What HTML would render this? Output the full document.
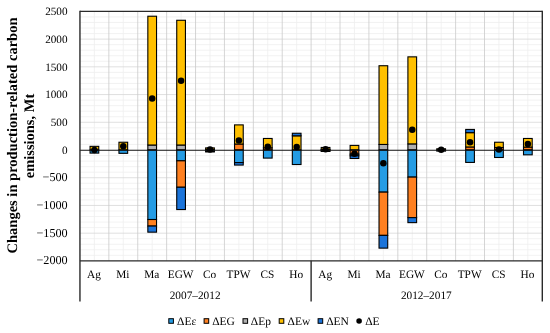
<!DOCTYPE html>
<html lang="en"><head><meta charset="utf-8"><title>Changes in production-related carbon emissions</title>
<style>html,body{margin:0;padding:0;background:#fff}svg{display:block}text{font-family:"Liberation Serif","Times New Roman",serif;fill:#000;text-rendering:geometricPrecision}</style></head><body>
<svg width="550" height="333" viewBox="0 0 550 333">
<rect width="550" height="333" fill="#fff"/>
<path d="M79.95 16.94H542.3M79.95 22.49H542.3M79.95 28.03H542.3M79.95 33.58H542.3M79.95 44.66H542.3M79.95 50.21H542.3M79.95 55.75H542.3M79.95 61.30H542.3M79.95 72.38H542.3M79.95 77.93H542.3M79.95 83.47H542.3M79.95 89.02H542.3M79.95 100.10H542.3M79.95 105.65H542.3M79.95 111.19H542.3M79.95 116.74H542.3M79.95 127.82H542.3M79.95 133.37H542.3M79.95 138.91H542.3M79.95 144.46H542.3M79.95 155.54H542.3M79.95 161.09H542.3M79.95 166.63H542.3M79.95 172.18H542.3M79.95 183.26H542.3M79.95 188.81H542.3M79.95 194.35H542.3M79.95 199.90H542.3M79.95 210.98H542.3M79.95 216.53H542.3M79.95 222.07H542.3M79.95 227.62H542.3M79.95 238.70H542.3M79.95 244.25H542.3M79.95 249.79H542.3M79.95 255.34H542.3" stroke="#EFEFEF" stroke-width="0.8" fill="none"/>
<path d="M94.40 11.37V260.85M123.30 11.37V260.85M152.19 11.37V260.85M181.09 11.37V260.85M209.99 11.37V260.85M238.88 11.37V260.85M267.78 11.37V260.85M296.68 11.37V260.85M325.57 11.37V260.85M354.47 11.37V260.85M383.37 11.37V260.85M412.26 11.37V260.85M441.16 11.37V260.85M470.06 11.37V260.85M498.95 11.37V260.85M527.85 11.37V260.85" stroke="#EFEFEF" stroke-width="0.8" fill="none"/>
<path d="M79.95 233.16H542.3M79.95 205.44H542.3M79.95 177.72H542.3M79.95 122.28H542.3M79.95 94.56H542.3M79.95 66.84H542.3M79.95 39.12H542.3" stroke="#D8D8D8" stroke-width="0.8" fill="none"/>
<path d="M108.85 11.37V260.85M137.74 11.37V260.85M166.64 11.37V260.85M195.54 11.37V260.85M224.43 11.37V260.85M253.33 11.37V260.85M282.23 11.37V260.85M311.12 11.37V260.85M340.02 11.37V260.85M368.92 11.37V260.85M397.82 11.37V260.85M426.71 11.37V260.85M455.61 11.37V260.85M484.51 11.37V260.85M513.40 11.37V260.85" stroke="#CACACA" stroke-width="0.8" fill="none"/>
<g stroke="#000" stroke-width="1.1">
<rect x="90.05" y="146.34" width="8.7" height="3.66" fill="#FFC000"/>
<rect x="90.05" y="150.00" width="8.7" height="3.10" fill="#259CE4"/>
<rect x="118.95" y="142.24" width="8.7" height="7.76" fill="#FFC000"/>
<rect x="118.95" y="150.00" width="8.7" height="3.33" fill="#259CE4"/>
<rect x="147.84" y="145.01" width="8.7" height="4.99" fill="#B0B0B0"/>
<rect x="147.84" y="16.22" width="8.7" height="128.79" fill="#FFC000"/>
<rect x="147.84" y="150.00" width="8.7" height="69.52" fill="#259CE4"/>
<rect x="147.84" y="219.52" width="8.7" height="6.54" fill="#FF8020"/>
<rect x="147.84" y="226.06" width="8.7" height="6.10" fill="#1B74DA"/>
<rect x="176.74" y="145.01" width="8.7" height="4.99" fill="#B0B0B0"/>
<rect x="176.74" y="20.27" width="8.7" height="124.74" fill="#FFC000"/>
<rect x="176.74" y="150.00" width="8.7" height="10.81" fill="#259CE4"/>
<rect x="176.74" y="160.81" width="8.7" height="26.44" fill="#FF8020"/>
<rect x="176.74" y="187.26" width="8.7" height="22.29" fill="#1B74DA"/>
<rect x="205.64" y="149.45" width="8.7" height="0.55" fill="#FF8020"/>
<rect x="205.64" y="147.89" width="8.7" height="1.55" fill="#FFC000"/>
<rect x="205.64" y="150.00" width="8.7" height="1.39" fill="#259CE4"/>
<rect x="205.64" y="151.39" width="8.7" height="0.55" fill="#1B74DA"/>
<rect x="234.53" y="144.01" width="8.7" height="5.99" fill="#FF8020"/>
<rect x="234.53" y="124.89" width="8.7" height="19.13" fill="#FFC000"/>
<rect x="234.53" y="150.00" width="8.7" height="12.58" fill="#259CE4"/>
<rect x="234.53" y="162.58" width="8.7" height="2.49" fill="#1B74DA"/>
<rect x="263.43" y="147.78" width="8.7" height="2.22" fill="#FF8020"/>
<rect x="263.43" y="138.47" width="8.7" height="9.31" fill="#FFC000"/>
<rect x="263.43" y="150.00" width="8.7" height="8.09" fill="#259CE4"/>
<rect x="292.33" y="135.81" width="8.7" height="14.19" fill="#FFC000"/>
<rect x="292.33" y="133.26" width="8.7" height="2.55" fill="#1B74DA"/>
<rect x="292.33" y="150.00" width="8.7" height="14.53" fill="#259CE4"/>
<rect x="321.22" y="149.45" width="8.7" height="0.55" fill="#FF8020"/>
<rect x="321.22" y="147.45" width="8.7" height="2.00" fill="#FFC000"/>
<rect x="321.22" y="150.00" width="8.7" height="0.89" fill="#259CE4"/>
<rect x="321.22" y="150.89" width="8.7" height="0.55" fill="#1B74DA"/>
<rect x="350.12" y="145.40" width="8.7" height="4.60" fill="#FFC000"/>
<rect x="350.12" y="150.00" width="8.7" height="4.16" fill="#FF8020"/>
<rect x="350.12" y="154.16" width="8.7" height="1.66" fill="#259CE4"/>
<rect x="350.12" y="155.82" width="8.7" height="2.66" fill="#1B74DA"/>
<rect x="379.02" y="144.46" width="8.7" height="5.54" fill="#B0B0B0"/>
<rect x="379.02" y="65.73" width="8.7" height="78.72" fill="#FFC000"/>
<rect x="379.02" y="150.00" width="8.7" height="42.13" fill="#259CE4"/>
<rect x="379.02" y="192.13" width="8.7" height="43.24" fill="#FF8020"/>
<rect x="379.02" y="235.38" width="8.7" height="12.75" fill="#1B74DA"/>
<rect x="407.91" y="143.90" width="8.7" height="6.10" fill="#B0B0B0"/>
<rect x="407.91" y="56.86" width="8.7" height="87.04" fill="#FFC000"/>
<rect x="407.91" y="150.00" width="8.7" height="27.11" fill="#259CE4"/>
<rect x="407.91" y="177.11" width="8.7" height="40.53" fill="#FF8020"/>
<rect x="407.91" y="217.64" width="8.7" height="4.99" fill="#1B74DA"/>
<rect x="436.81" y="148.78" width="8.7" height="1.22" fill="#FFC000"/>
<rect x="436.81" y="150.00" width="8.7" height="1.11" fill="#259CE4"/>
<rect x="465.71" y="146.95" width="8.7" height="3.05" fill="#FF8020"/>
<rect x="465.71" y="132.65" width="8.7" height="14.30" fill="#FFC000"/>
<rect x="465.71" y="129.43" width="8.7" height="3.22" fill="#1B74DA"/>
<rect x="465.71" y="150.00" width="8.7" height="12.42" fill="#259CE4"/>
<rect x="494.60" y="147.51" width="8.7" height="2.49" fill="#FF8020"/>
<rect x="494.60" y="142.24" width="8.7" height="5.27" fill="#FFC000"/>
<rect x="494.60" y="150.00" width="8.7" height="7.48" fill="#259CE4"/>
<rect x="523.50" y="147.12" width="8.7" height="2.88" fill="#FF8020"/>
<rect x="523.50" y="138.47" width="8.7" height="8.65" fill="#FFC000"/>
<rect x="523.50" y="150.00" width="8.7" height="4.82" fill="#259CE4"/>
</g>
<path d="M79.95 150.25H542.3" stroke="#111" stroke-width="1.1" fill="none"/>
<path d="M79.95 11.37H542.3M79.95 260.85H542.3" stroke="#2A2A2A" stroke-width="1.4" fill="none"/>
<path d="M79.95 10.67V301.6M542.3 10.67V301.6M311.12 260.85V301.6" stroke="#2A2A2A" stroke-width="1.4" fill="none"/>
<g fill="#000">
<circle cx="94.40" cy="149.89" r="3.25"/>
<circle cx="123.30" cy="146.23" r="3.25"/>
<circle cx="152.19" cy="98.44" r="3.25"/>
<circle cx="181.09" cy="80.70" r="3.25"/>
<circle cx="209.99" cy="149.45" r="3.25"/>
<circle cx="238.88" cy="140.52" r="3.25"/>
<circle cx="267.78" cy="146.78" r="3.25"/>
<circle cx="296.68" cy="147.12" r="3.25"/>
<circle cx="325.57" cy="149.17" r="3.25"/>
<circle cx="354.47" cy="153.71" r="3.25"/>
<circle cx="383.37" cy="163.14" r="3.25"/>
<circle cx="412.26" cy="129.71" r="3.25"/>
<circle cx="441.16" cy="149.72" r="3.25"/>
<circle cx="470.06" cy="142.24" r="3.25"/>
<circle cx="498.95" cy="149.45" r="3.25"/>
<circle cx="527.85" cy="143.90" r="3.25"/>
</g>
<g font-size="11.2" text-anchor="end">
<text x="67.5" y="15.20">2500</text>
<text x="67.5" y="42.92">2000</text>
<text x="67.5" y="70.64">1500</text>
<text x="67.5" y="98.36">1000</text>
<text x="67.5" y="126.08">500</text>
<text x="67.5" y="153.80">0</text>
<text x="67.7" y="181.12" font-size="12.2">−500</text>
<text x="67.7" y="208.84" font-size="12.2">−1000</text>
<text x="67.7" y="236.56" font-size="12.2">−1500</text>
<text x="67.7" y="264.28" font-size="12.2">−2000</text>
</g>
<g font-size="11.3" text-anchor="middle">
<text x="94.00" y="277.7">Ag</text>
<text x="122.90" y="277.7">Mi</text>
<text x="151.79" y="277.7">Ma</text>
<text x="180.69" y="277.7">EGW</text>
<text x="209.59" y="277.7">Co</text>
<text x="238.48" y="277.7">TPW</text>
<text x="267.38" y="277.7">CS</text>
<text x="296.28" y="277.7">Ho</text>
<text x="325.17" y="277.7">Ag</text>
<text x="354.07" y="277.7">Mi</text>
<text x="382.97" y="277.7">Ma</text>
<text x="411.86" y="277.7">EGW</text>
<text x="440.76" y="277.7">Co</text>
<text x="469.66" y="277.7">TPW</text>
<text x="498.55" y="277.7">CS</text>
<text x="527.45" y="277.7">Ho</text>
<text x="195.14" y="298.5">2007–2012</text>
<text x="426.31" y="298.5">2012–2017</text>
</g>
<g font-size="14.5" font-weight="bold" text-anchor="middle">
<text transform="translate(16.8 135.5) rotate(-90)">Changes in production-related carbon</text>
<text transform="translate(33.7 136) rotate(-90)">emissions, Mt</text>
</g>
<g font-size="11.5">
<rect x="168.80" y="318.7" width="4.6" height="4.6" fill="#259CE4" stroke="#000" stroke-width="1"/>
<text x="177.0" y="325.3">ΔEε</text>
<rect x="204.10" y="318.7" width="4.6" height="4.6" fill="#FF8020" stroke="#000" stroke-width="1"/>
<text x="212.2" y="325.3">ΔEG</text>
<rect x="243.00" y="318.7" width="4.6" height="4.6" fill="#B0B0B0" stroke="#000" stroke-width="1"/>
<text x="250.8" y="325.3">ΔEp</text>
<rect x="279.20" y="318.7" width="4.6" height="4.6" fill="#FFC000" stroke="#000" stroke-width="1"/>
<text x="287.5" y="325.3">ΔEw</text>
<rect x="318.10" y="318.7" width="4.6" height="4.6" fill="#1B74DA" stroke="#000" stroke-width="1"/>
<text x="326.2" y="325.3">ΔEN</text>
<circle cx="359.1" cy="321" r="2.8" fill="#000"/>
<text x="365.2" y="325.3">ΔE</text>
</g>
</svg></body></html>
